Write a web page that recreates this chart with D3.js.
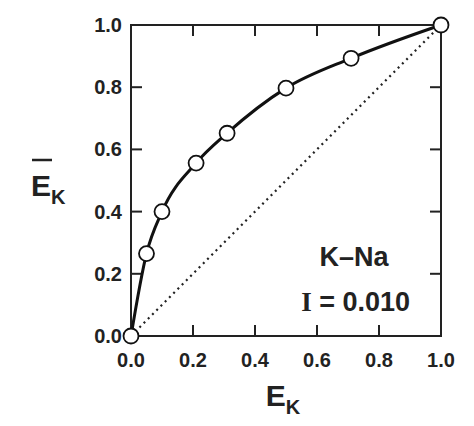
<!DOCTYPE html><html><head><meta charset="utf-8"><script src="https://cdn.jsdelivr.net/npm/d3@7"></script>
<style>body{margin:0;background:#fff}</style></head><body><svg id="c" width="474" height="426"></svg>
<script>
const xVals=[0,0.05,0.1,0.21,0.31,0.5,0.71,1.0];
const yVals=[0,0.265,0.40,0.556,0.652,0.797,0.893,1.0];
const tickVals=[0,0.2,0.4,0.6,0.8,1.0];
const svg=d3.select("#c");
const x=d3.scaleLinear().domain([0,1]).range([131,441]);
const y=d3.scaleLinear().domain([0,1]).range([336,25]);
const F="Helvetica, Arial, 'Liberation Sans', sans-serif";
svg.append("rect").attr("x",x(0)).attr("y",y(1)).attr("width",x(1)-x(0)).attr("height",y(0)-y(1)).attr("fill","none").attr("stroke","#222").attr("stroke-width",2);
const inner=tickVals.filter(v=>v>0&&v<1);
const g=svg.append("g").attr("stroke","#222").attr("stroke-width",2);
inner.forEach(v=>{
 g.append("line").attr("x1",x(v)).attr("x2",x(v)).attr("y1",y(0)).attr("y2",y(0)-11);
 g.append("line").attr("x1",x(v)).attr("x2",x(v)).attr("y1",y(1)).attr("y2",y(1)+11);
 g.append("line").attr("x1",x(0)).attr("x2",x(0)+11).attr("y1",y(v)).attr("y2",y(v));
 g.append("line").attr("x1",x(1)).attr("x2",x(1)-11).attr("y1",y(v)).attr("y2",y(v));
});
tickVals.forEach(v=>{
 svg.append("text").attr("x",x(v)).attr("y",367).attr("text-anchor","middle").attr("font-family",F).attr("font-weight","bold").attr("font-size",20).attr("fill","#222").text(v.toFixed(1));
 svg.append("text").attr("x",122).attr("y",y(v)+7).attr("text-anchor","end").attr("font-family",F).attr("font-weight","bold").attr("font-size",20).attr("fill","#222").text(v.toFixed(1));
});
svg.append("line").attr("x1",x(0)).attr("y1",y(0)).attr("x2",x(1)).attr("y2",y(1)).attr("stroke","#222").attr("stroke-width",2.2).attr("stroke-dasharray","2,4");
const line=d3.line().x((d,i)=>x(xVals[i])).y(d=>y(d)).curve(d3.curveMonotoneX);
svg.append("path").attr("d",line(yVals)).attr("fill","none").attr("stroke","#111").attr("stroke-width",3);
svg.selectAll("circle.p").data(yVals).join("circle").attr("cx",(d,i)=>x(xVals[i])).attr("cy",d=>y(d)).attr("r",7.5).attr("fill","#fff").attr("stroke","#111").attr("stroke-width",1.8);
const xt=svg.append("text").attr("x",283).attr("y",406).attr("text-anchor","middle").attr("font-family",F).attr("font-weight","bold").attr("font-size",30).attr("fill","#222");
xt.append("tspan").text("E");xt.append("tspan").attr("font-size",20).attr("dy",8).text("K");
const yt=svg.append("text").attr("x",31).attr("y",196).attr("font-family",F).attr("font-weight","bold").attr("font-size",30).attr("fill","#222");
yt.append("tspan").text("E");yt.append("tspan").attr("font-size",20).attr("dy",8).text("K");
svg.append("line").attr("x1",32).attr("x2",52).attr("y1",160).attr("y2",160).attr("stroke","#222").attr("stroke-width",2.5);
svg.append("text").attr("x",354).attr("y",266).attr("text-anchor","middle").attr("font-family",F).attr("font-weight","bold").attr("font-size",27).attr("fill","#222").text("K–Na");
const it=svg.append("text").attr("x",410).attr("y",311).attr("text-anchor","end").attr("font-weight","bold").attr("font-size",27).attr("fill","#222");
it.append("tspan").attr("font-family","'Liberation Serif', serif").text("I");
it.append("tspan").attr("font-family",F).text(" = 0.010");
</script></body></html>
